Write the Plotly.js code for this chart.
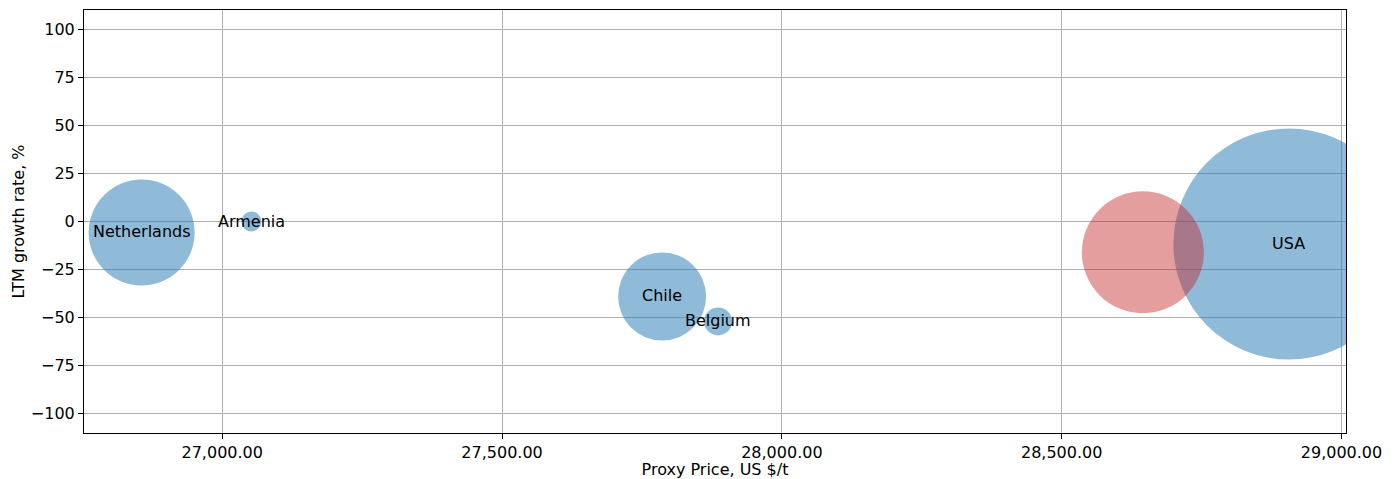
<!DOCTYPE html>
<html>
<head>
<meta charset="utf-8">
<script src="https://cdn.plot.ly/plotly-3.0.1.min.js"></script>
<style>html,body{margin:0;padding:0;background:#fff;}#chart{width:1399px;height:479px;}</style>
</head>
<body>
<div id="chart"></div>
<script>
// Blue bubbles (labelled countries)
const countries = ["Netherlands", "Armenia", "Chile", "Belgium", "USA"];
const proxyPrice = [26856, 27052, 27786, 27886, 28906];
const growthRate = [-5.7, 0.0, -39.0, -52.0, -11.7];
const volume = [1124, 40, 774, 78, 5336];

// Highlighted (red) bubble, unlabelled
const hlPrice = [28645];
const hlGrowth = [-16.0];
const hlVolume = [1488];

const xTicks = [27000, 27500, 28000, 28500, 29000];
const yTicks = [-100, -75, -50, -25, 0, 25, 50, 75, 100];

const sizeOf = v => Math.sqrt(v) * Math.sqrt(10);
const FONT = "DejaVu Sans, sans-serif";

const traces = [
  {
    type: "scatter",
    mode: "markers",
    x: proxyPrice,
    y: growthRate,
    marker: {size: volume.map(sizeOf), sizemode: "diameter", color: "#1f77b4", opacity: 0.5, line: {width: 0}},
    hoverinfo: "skip",
    showlegend: false
  },
  {
    type: "scatter",
    mode: "markers",
    x: hlPrice,
    y: hlGrowth,
    marker: {size: hlVolume.map(sizeOf), sizemode: "diameter", color: "#c42828", opacity: 0.45, line: {width: 0}},
    hoverinfo: "skip",
    showlegend: false
  }
];

const annotations = countries.map((c, i) => ({
  x: proxyPrice[i],
  y: growthRate[i],
  xref: "x",
  yref: "y",
  text: c,
  showarrow: false,
  xanchor: "center",
  yanchor: "middle",
  yshift: 0.5,
  font: {family: FONT, size: 16, color: "#000"}
}));

const axisCommon = {
  showgrid: true,
  gridcolor: "#b0b0b0",
  gridwidth: 1,
  zeroline: false,
  showline: true,
  linecolor: "#000",
  linewidth: 1,
  mirror: true,
  ticks: "outside",
  ticklen: 5,
  tickwidth: 1,
  tickcolor: "#000",
  tickfont: {family: FONT, size: 16, color: "#000"}
};

const layout = {
  width: 1399,
  height: 479,
  margin: {l: 84, r: 53, t: 10, b: 46, pad: 0},
  paper_bgcolor: "#fff",
  plot_bgcolor: "#fff",
  font: {family: FONT, size: 16, color: "#000"},
  annotations: annotations,
  xaxis: Object.assign({}, axisCommon, {
    range: [26753, 29008],
    tickvals: xTicks,
    ticktext: xTicks.map(v => v.toLocaleString("en-US", {minimumFractionDigits: 2, maximumFractionDigits: 2})),
    title: {text: "Proxy Price, US $/t", font: {family: FONT, size: 16, color: "#000"}, standoff: 4}
  }),
  yaxis: Object.assign({}, axisCommon, {
    range: [-110, 110],
    tickvals: yTicks,
    ticktext: yTicks.map(v => v < 0 ? "\u2212" + Math.abs(v) : String(v)),
    title: {text: "LTM growth rate, %", font: {family: FONT, size: 16, color: "#000"}, standoff: 2}
  })
};

Plotly.newPlot("chart", traces, layout, {displayModeBar: false, staticPlot: true});
</script>
</body>
</html>
